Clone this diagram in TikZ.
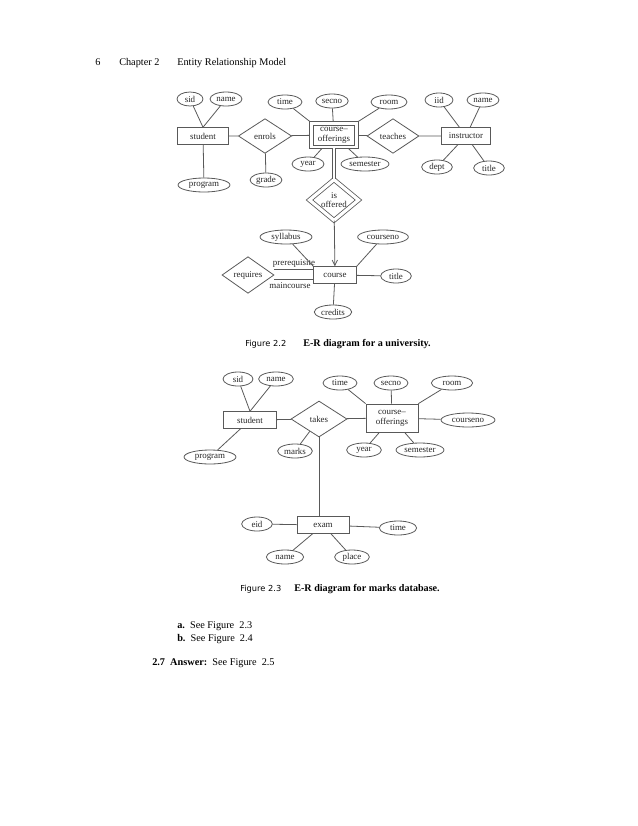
\documentclass[tikz,border=0pt]{standalone}
\usepackage{fontspec}
\setmainfont{Liberation Serif}
\newfontfamily\capsans{DejaVu Sans}
\usetikzlibrary{shapes.geometric,arrows.meta}

\begin{document}
\begin{tikzpicture}[x=0.75pt, y=-0.75pt,
    every node/.style={font=\fontsize{6.7}{7.5}\selectfont, text=black!85},
    attr/.style={ellipse, draw=black!65, line width=0.6pt, inner xsep=1pt, inner ysep=0pt, minimum height=10.5pt, minimum width=#1},
    attr/.default=20pt,
    ent/.style={rectangle, draw=black!65, line width=0.6pt, inner sep=1pt, minimum height=12.5pt, minimum width=#1},
    rel/.style={diamond, draw=black!65, line width=0.6pt, inner sep=0pt, minimum width=39pt, minimum height=26pt},
    weak/.style={double=white, double distance=2.4pt},
    link/.style={draw=black!65, line width=0.6pt},
    txt/.style={anchor=base west, inner sep=0pt, text=black, font=\fontsize{7.7}{9}\selectfont}]
    \useasboundingbox (0,0) rectangle (638,826);

    % page header
    \node[txt] (pageno) at (95,65) {6};
    \node[txt] (chap) at (119,65) {Chapter 2};
    \node[txt] (chaptitle) at (177,65) {Entity Relationship Model};

    % figure 2.2: university
    \node[ent=38pt] (student1) at (203,136) {student};
    \node[rel, minimum width=40pt] (enrols) at (265,136) {enrols};
    \node[ent=31pt, minimum height=15pt, outer sep=2.6pt, align=center, inner sep=0pt] (co1) at (334,135) {course--\\offerings};
    \draw[link] (co1.north west) rectangle (co1.south east);
    \node[rel] (teaches) at (393,136) {teaches};
    \node[ent=37pt] (instructor) at (466,136) {instructor};
    \node[attr=19.5pt] (sid1) at (190,99) {sid};
    \node[attr=24pt] (name1) at (226,99) {name};
    \node[attr=25.5pt] (time1) at (285,102) {time};
    \node[attr=22.5pt] (secno1) at (332,101) {secno};
    \node[attr=27pt] (room1) at (389,102) {room};
    \node[attr=21pt] (iid) at (439,100) {iid};
    \node[attr=24pt] (iname) at (483,100) {name};
    \node[attr=24pt] (year1) at (308,164) {year};
    \node[attr=28.5pt] (sem1) at (365,164) {semester};
    \node[attr=23pt] (dept) at (437,167) {dept};
    \node[attr=23pt] (ititle) at (489,168) {title};
    \node[attr=39pt] (program1) at (204,185) {program};
    \node[attr=23pt] (grade) at (266,180) {grade};
    \node[rel, minimum width=37pt, minimum height=22pt, weak, align=center, font=\fontsize{6.7}{7}\selectfont] (isoff) at (334,200) {is\\offered};
    \node[ent=32pt] (course) at (335,275) {course};
    \node[rel] (requires) at (248,275) {requires};
    \node[attr=39pt] (syllabus) at (286,237) {syllabus};
    \node[attr=38pt] (courseno1) at (383,237) {courseno};
    \node[attr=23pt] (ctitle) at (396,276) {title};
    \node[attr=24pt] (credits) at (333,312) {credits};
    \node[inner sep=0pt] (prereq) at (294,263) {prerequisite};
    \node[inner sep=0pt] (maincourse) at (290,286) {maincourse};

    \draw[link] (sid1) -- (student1.north);
    \draw[link] (name1) -- (student1.north);
    \draw[link] (program1) -- (student1);
    \draw[link] (student1) -- (enrols) -- (co1) -- (teaches) -- (instructor);
    \draw[link] (grade) -- (enrols);
    \draw[link] (time1) -- (co1.north west);
    \draw[link] (secno1) -- (co1);
    \draw[link] (room1) -- (co1.north east);
    \draw[link] (year1) -- (co1);
    \draw[link] (sem1) -- (co1);
    \draw[link] (iid) -- (instructor);
    \draw[link] (iname) -- (instructor);
    \draw[link] (dept) -- (instructor);
    \draw[link] (ititle) -- (instructor);
    \draw[link, weak, double distance=2pt] (co1) -- (isoff);
    \draw[link, -{Straight Barb[length=4pt, width=4pt]}] (isoff) -- (course);
    \draw[link] (syllabus) -- (course.north west);
    \draw[link] (courseno1) -- (course.north east);
    \draw[link] (ctitle) -- (course);
    \draw[link] (credits) -- (course);
    \draw[link] ([yshift=4.5pt]requires.east) -- ([yshift=4.5pt]course.west);
    \draw[link] ([yshift=-3pt]requires.east) -- ([yshift=-3pt]course.west);

    \node[txt] (fig1) at (245,346) {\capsans\fontsize{6.2}{7}\selectfont Figure 2.2};
    \node[txt, font=\fontsize{7.6}{9}\selectfont\bfseries] (cap1) at (303,346) {E-R diagram for a university.};

    % figure 2.3: marks
    \node[ent=40pt] (student2) at (250,420) {student};
    \node[rel, minimum width=42pt, minimum height=27pt] (takes) at (319,419) {takes};
    \node[ent=39pt, minimum height=21pt, align=center, inner sep=0pt] (co2) at (392,418) {course--\\offerings};
    \node[attr=22.5pt] (sid2) at (238,379) {sid};
    \node[attr=26pt] (name2) at (276,379) {name};
    \node[attr=25.5pt] (time2) at (340,383) {time};
    \node[attr=25.5pt] (secno2) at (391,383) {secno};
    \node[attr=31pt] (room2) at (452,383) {room};
    \node[attr=40.5pt] (courseno2) at (468,420) {courseno};
    \node[attr=26pt] (year2) at (364,450) {year};
    \node[attr=34pt] (sem2) at (420,450) {semester};
    \node[attr=39pt] (program2) at (210,457) {program};
    \node[attr=21pt] (marks) at (295,451) {marks};
    \node[ent=39pt] (exam) at (323,525) {exam};
    \node[attr=23pt] (eid) at (257,524) {eid};
    \node[attr=28pt] (etime) at (398,528) {time};
    \node[attr=28pt] (ename) at (285,557) {name};
    \node[attr=26pt] (place) at (352,557) {place};

    \draw[link] (sid2) -- (student2.north);
    \draw[link] (name2) -- (student2.north);
    \draw[link] (program2) -- (student2);
    \draw[link] (student2) -- (takes) -- (co2) -- (courseno2);
    \draw[link] (marks) -- (takes);
    \draw[link] (takes.south) -- (takes.south |- exam.north);
    \draw[link] (time2) -- (co2.north west);
    \draw[link] (secno2) -- (co2);
    \draw[link] (room2) -- (co2.north east);
    \draw[link] (year2) -- (co2);
    \draw[link] (sem2) -- (co2);
    \draw[link] (eid) -- (exam);
    \draw[link] (etime) -- (exam);
    \draw[link] (ename) -- (exam);
    \draw[link] (place) -- (exam);

    \node[txt] (fig2) at (240,591) {\capsans\fontsize{6.2}{7}\selectfont Figure 2.3};
    \node[txt, font=\fontsize{7.6}{9}\selectfont\bfseries] (cap2) at (294,591) {E-R diagram for marks database.};

    % answer text
    \node[txt] (itema) at (177,628) {\textbf{a.}\ \ See Figure\ \ 2.3};
    \node[txt] (itemb) at (177,641) {\textbf{b.}\ \ See Figure\ \ 2.4};
    \node[txt] (ans) at (152,665) {\textbf{2.7\ \ Answer:}\ \ See Figure\ \ 2.5};
\end{tikzpicture}
\end{document}
